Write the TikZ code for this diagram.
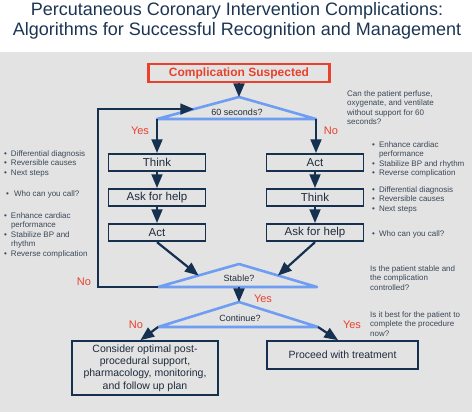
\documentclass[tikz,border=0pt]{standalone}
\usepackage{fontspec}
\setmainfont{Liberation Sans}
\usetikzlibrary{calc,arrows}

\definecolor{navy}{HTML}{163050}
\definecolor{ink}{HTML}{1F2C3C}
\definecolor{alarm}{HTML}{E8412C}
\definecolor{decide}{HTML}{6E9DF2}
\definecolor{panel}{HTML}{E3E3E3}
\definecolor{note}{HTML}{3A4858}
\definecolor{head}{HTML}{1C3553}

\begin{document}
\begin{tikzpicture}[x=1pt,y=-1pt,
  box/.style={draw=navy, line width=1.8pt, minimum width=97pt, minimum height=17.5pt, inner sep=0pt, text=ink, font=\fontsize{11.5}{13}\selectfont},
  arr/.style={draw=navy, line width=2.2pt, -triangle 45},
  tri/.style={draw=decide, line width=2.6pt, line join=round},
  ans/.style={text=alarm, font=\fontsize{11}{13}\selectfont, inner sep=0pt},
  ask/.style={text=ink, font=\fontsize{9}{11}\selectfont, inner sep=0pt},
  hint/.style={text=note, font=\fontsize{8}{9.5}\selectfont, inner sep=0pt, anchor=north west}]

\useasboundingbox (0,0) rectangle (474,415);
\fill[panel] (0,52) rectangle (472,412);

% title
\node[text=head, font=\fontsize{18}{20}\selectfont, anchor=base] at (237,15) (title1) {Percutaneous Coronary Intervention Complications:};
\node[text=head, font=\fontsize{18}{20}\selectfont, anchor=base] at (237,35) (title2) {Algorithms for Successful Recognition and Management};

\node[draw=alarm, line width=2.8pt, minimum width=181pt, minimum height=17pt, text=alarm, font=\bfseries\fontsize{12}{14}\selectfont] at (239,73) (suspect) {Complication Suspected};

% 60 seconds
\coordinate (q1top) at (239,97);
\coordinate (q1l) at (157,119);
\coordinate (q1r) at (316,119);
\draw[tri] (q1top) -- (q1r) -- (q1l) -- cycle;
\node[ask] at (237,112) (q1) {60 seconds?};

\node[box] at (157,162.5) (think1) {Think};
\node[box] at (157,197.5) (help1) {Ask for help};
\node[box] at (157,232.5) (act1) {Act};
\node[box] at (315,162.5) (act2) {Act};
\node[box] at (315,197.5) (think2) {Think};
\node[box] at (315,232.5) (help2) {Ask for help};

% stable
\coordinate (s2top) at (239,264);
\coordinate (s2l) at (158,287);
\coordinate (s2r) at (317,287);
\draw[tri] (s2top) -- (s2r) -- (s2l) -- cycle;
\node[ask] at (239,278) (s2) {Stable?};

% continue
\coordinate (c3top) at (239,302);
\coordinate (c3l) at (158,327);
\coordinate (c3r) at (318,327);
\draw[tri] (c3top) -- (c3r) -- (c3l) -- cycle;
\node[ask] at (240,318) (c3) {Continue?};

\node[box, minimum width=146pt, minimum height=54pt, align=center, font=\fontsize{10.5}{12.4}\selectfont] at (145,368) (consider) {Consider optimal post-\\procedural support,\\pharmacology, monitoring,\\and follow up plan};
\node[box, minimum width=151pt, minimum height=28pt, font=\fontsize{10.5}{12.4}\selectfont] at (342.5,355) (proceed) {Proceed with treatment};

\coordinate (back) at (98,287);
\draw[arr] (suspect.south) -- (q1top);
\draw[arr] (q1l) -- (think1.north);
\draw[arr] (q1r) -- (q1r |- act2.north);
\draw[arr] (think1) -- (help1);
\draw[arr] (help1) -- (act1);
\draw[arr] (act2) -- (think2);
\draw[arr] (think2) -- (help2);
\draw[arr] (act1.south) -- ($(s2top)!0.5!(s2l)$);
\draw[arr] (help2.south) -- ($(s2top)!0.5!(s2r)$);
\draw[arr] (s2l) -- (back) |- ($(q1top)!0.55!(q1l)$);
\draw[arr] (s2top |- s2l) -- (c3top);
\draw[arr] (c3l) -- ($(consider.north west)!0.47!(consider.north east)$);
\draw[arr] (c3r) -- ($(proceed.north west)!0.47!(proceed.north east)$);

% answers
\node[ans] at (140,131) (yes1) {Yes};
\node[ans] at (331,131) (no1) {No};
\node[ans] at (84,282) (no2) {No};
\node[ans] at (263,299) (yes2) {Yes};
\node[ans] at (136,325) (no3) {No};
\node[ans] at (352,325) (yes3) {Yes};

% notes
\node[hint] at (347,89.5) (noteq1) {\begin{tabular}{@{}l@{}}Can the patient perfuse,\\oxygenate, and ventilate\\without support for 60\\seconds?\end{tabular}};
\node[hint] at (372,140.5) (noteact2) {\begin{tabular}{@{}l@{\hspace{4pt}}l@{}}• & Enhance cardiac\\ & performance\\• & Stabilize BP and rhythm\\• & Reverse complication\end{tabular}};
\node[hint] at (372,185.5) (notethink2) {\begin{tabular}{@{}l@{\hspace{4pt}}l@{}}• & Differential diagnosis\\• & Reversible causes\\• & Next steps\end{tabular}};
\node[hint] at (372,229.5) (notehelp2) {\begin{tabular}{@{}l@{\hspace{4pt}}l@{}}• & Who can you call?\end{tabular}};
\node[hint] at (370,264.5) (notes2) {\begin{tabular}{@{}l@{}}Is the patient stable and\\the complication\\controlled?\end{tabular}};
\node[hint] at (370,310.5) (notec3) {\begin{tabular}{@{}l@{}}Is it best for the patient to\\complete the procedure\\now?\end{tabular}};
\node[hint] at (4,149.5) (notethink1) {\begin{tabular}{@{}l@{\hspace{4pt}}l@{}}• & Differential diagnosis\\• & Reversible causes\\• & Next steps\end{tabular}};
\node[hint] at (6,189.5) (notehelp1) {\begin{tabular}{@{}l@{\hspace{5pt}}l@{}}• & Who can you call?\end{tabular}};
\node[hint] at (4,211.5) (noteact1) {\begin{tabular}{@{}l@{\hspace{4pt}}l@{}}• & Enhance cardiac\\ & performance\\• & Stabilize BP and\\ & rhythm\\• & Reverse complication\end{tabular}};

\end{tikzpicture}
\end{document}
